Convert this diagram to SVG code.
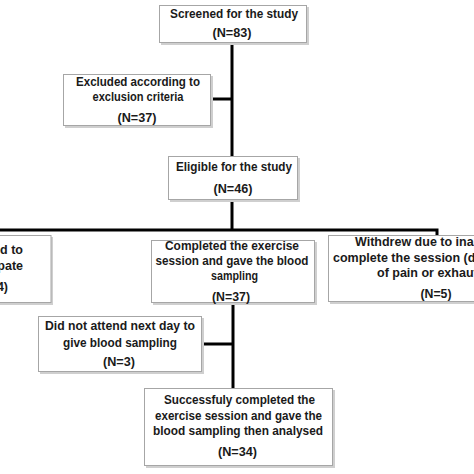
<svg xmlns="http://www.w3.org/2000/svg" width="474" height="474" viewBox="0 0 474 474">
<style>
.box{fill:#ffffff;stroke:#a6a6a6;stroke-width:1}
.sh{fill:#cfcfcf}
.t{font-family:"Liberation Sans",Arial,sans-serif;font-weight:bold;font-size:12px;fill:#1a1a1a;text-anchor:middle}
.ts{font-family:"Liberation Sans",Arial,sans-serif;font-weight:bold;font-size:12.5px;fill:#1a1a1a}
.c{stroke:#000;stroke-width:3;fill:none}
</style>
<rect width="474" height="474" fill="#fff"/>
<g id="connectors">
<line class="c" x1="232" y1="43" x2="232" y2="156"/>
<line class="c" x1="211" y1="99" x2="232" y2="99"/>
<line class="c" x1="232" y1="200" x2="232" y2="230"/>
<polyline class="c" points="0,230 437,230 437,236"/>
<line class="c" x1="233" y1="303" x2="233" y2="388"/>
<line class="c" x1="202" y1="344" x2="233" y2="344"/>
</g>
<g id="screened">
<rect class="sh" x="161" y="7" width="148" height="38"/>
<rect class="box" x="159.5" y="5.5" width="147" height="37"/>
<text class="t" x="234" y="18" textLength="128" lengthAdjust="spacingAndGlyphs">Screened for the study</text>
<text class="t" x="232" y="37" textLength="39" lengthAdjust="spacingAndGlyphs">(N=83)</text>
</g>
<g id="excluded">
<rect class="sh" x="65" y="76" width="148" height="52"/>
<rect class="box" x="63.5" y="74.5" width="147" height="51"/>
<text class="t" x="138" y="86" textLength="124" lengthAdjust="spacingAndGlyphs">Excluded according to</text>
<text class="t" x="138" y="101" textLength="91" lengthAdjust="spacingAndGlyphs">exclusion criteria</text>
<text class="t" x="137" y="122" textLength="39" lengthAdjust="spacingAndGlyphs">(N=37)</text>
</g>
<g id="eligible">
<rect class="sh" x="170" y="158" width="130" height="44"/>
<rect class="box" x="168.5" y="156.5" width="129" height="43"/>
<text class="t" x="234" y="171" textLength="116" lengthAdjust="spacingAndGlyphs">Eligible for the study</text>
<text class="t" x="233" y="193" textLength="39" lengthAdjust="spacingAndGlyphs">(N=46)</text>
</g>
<g id="declined">
<rect class="sh" x="-20" y="237" width="73" height="68"/>
<rect class="box" x="-22" y="235.5" width="73" height="67"/>
<text class="ts" x="23" y="254" text-anchor="end">Declined to</text>
<text class="ts" x="23" y="270" text-anchor="end">participate</text>
<text class="ts" x="8" y="291" text-anchor="end">(N=4)</text>
</g>
<g id="completed">
<rect class="sh" x="153" y="242" width="164" height="63"/>
<rect class="box" x="151.5" y="240.5" width="163" height="62"/>
<text class="t" x="232" y="250" textLength="134" lengthAdjust="spacingAndGlyphs">Completed the exercise</text>
<text class="t" x="232" y="265" textLength="153" lengthAdjust="spacingAndGlyphs">session and gave the blood</text>
<text class="t" x="234.5" y="280" textLength="47" lengthAdjust="spacingAndGlyphs">sampling</text>
<text class="t" x="231" y="301" textLength="38" lengthAdjust="spacingAndGlyphs">(N=37)</text>
</g>
<g id="withdrew">
<rect class="sh" x="330" y="237" width="220" height="67"/>
<rect class="box" x="328.5" y="235.5" width="220" height="66"/>
<text class="ts" x="355" y="246">Withdrew due to inability to</text>
<text class="ts" x="333" y="262">complete the session (development</text>
<text class="ts" x="377" y="277">of pain or exhaution)</text>
<text class="t" x="436" y="298" textLength="31" lengthAdjust="spacingAndGlyphs">(N=5)</text>
</g>
<g id="notattend">
<rect class="sh" x="40" y="318" width="164" height="56"/>
<rect class="box" x="38.5" y="316.5" width="163" height="55"/>
<text class="t" x="120" y="330" textLength="150" lengthAdjust="spacingAndGlyphs">Did not attend next day to</text>
<text class="t" x="120" y="347" textLength="114" lengthAdjust="spacingAndGlyphs">give blood sampling</text>
<text class="t" x="119" y="366" textLength="32" lengthAdjust="spacingAndGlyphs">(N=3)</text>
</g>
<g id="analysed">
<rect class="sh" x="146" y="390" width="189" height="78"/>
<rect class="box" x="144.5" y="388.5" width="188" height="77"/>
<text class="t" x="239.5" y="404" textLength="151" lengthAdjust="spacingAndGlyphs">Successfuly completed the</text>
<text class="t" x="238.5" y="420" textLength="167" lengthAdjust="spacingAndGlyphs">exercise session and gave the</text>
<text class="t" x="238" y="435" textLength="170" lengthAdjust="spacingAndGlyphs">blood sampling then analysed</text>
<text class="t" x="237.5" y="456" textLength="39" lengthAdjust="spacingAndGlyphs">(N=34)</text>
</g>
</svg>
